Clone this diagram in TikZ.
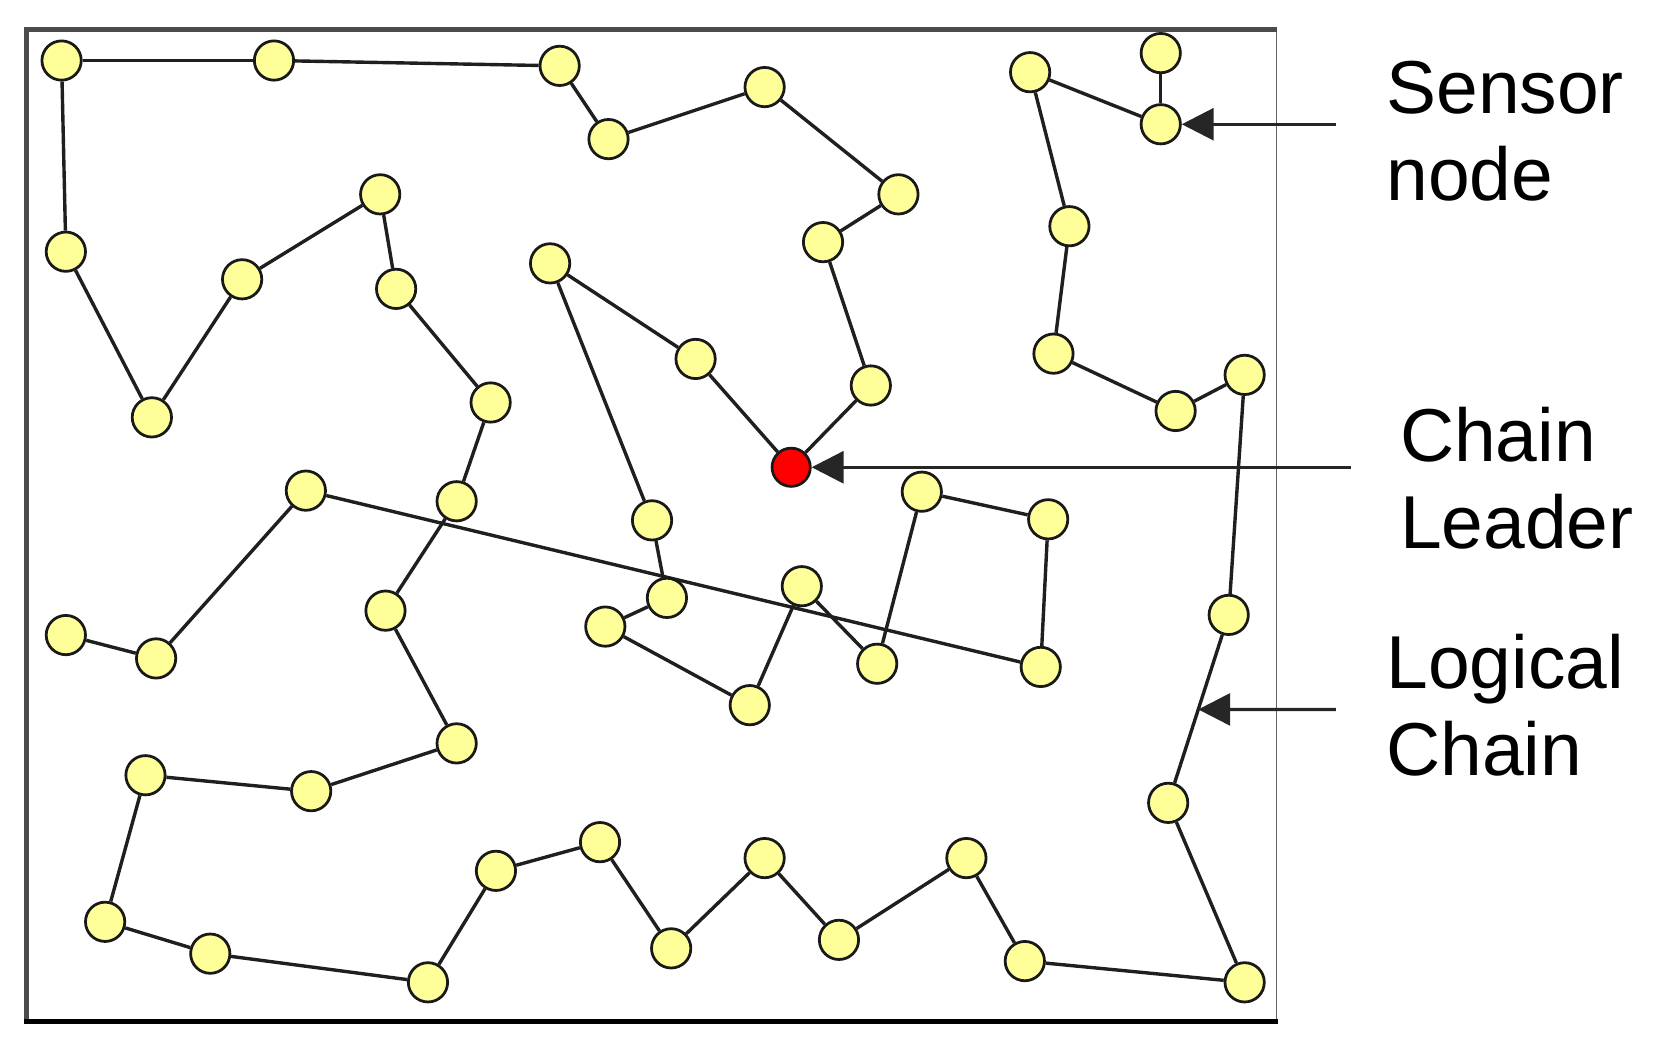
\documentclass[tikz,border=0pt]{standalone}
\usepackage{fontspec}
\setmainfont{Liberation Sans}
\usetikzlibrary{arrows.meta,calc,backgrounds}
\definecolor{nodeyellow}{RGB}{255,255,153}
\definecolor{framegray}{RGB}{75,75,75}
\begin{document}
\begin{tikzpicture}[x=0.5pt,y=-0.5pt,
  sensor/.style={circle,draw=black!90,line width=1.3pt,fill=nodeyellow,minimum size=18.5pt,inner sep=0pt},
  leader/.style={sensor,fill=red,minimum size=18pt},
  link/.style={line width=1.6pt,draw=black!88},
  pointer/.style={line width=1.5pt,draw=black!85,-{Triangle[length=15pt,width=15pt]}},
  lbl/.style={font=\fontsize{35.3}{41}\selectfont,align=left,anchor=north west,inner sep=0pt}]
\useasboundingbox (0,0) rectangle (1565,990);

% sensor nodes along the chain
\node[sensor] (n1) at (1093,50) {};
\node[sensor] (n2) at (1093,117) {};
\node[sensor] (n3) at (970,68) {};
\node[sensor] (n4) at (1007,213) {};
\node[sensor] (n5) at (992,333) {};
\node[sensor] (n6) at (1107,387) {};
\node[sensor] (n7) at (1172,353) {};
\node[sensor] (n8) at (1157,579) {};
\node[sensor] (n9) at (1100,756) {};
\node[sensor] (n10) at (1172,925) {};
\node[sensor] (n11) at (965,905) {};
\node[sensor] (n12) at (910,808) {};
\node[sensor] (n13) at (790,885) {};
\node[sensor] (n14) at (720,808) {};
\node[sensor] (n15) at (632,893) {};
\node[sensor] (n16) at (565,793) {};
\node[sensor] (n17) at (467,820) {};
\node[sensor] (n18) at (403,925) {};
\node[sensor] (n19) at (198,898) {};
\node[sensor] (n20) at (99,868) {};
\node[sensor] (n21) at (137,730) {};
\node[sensor] (n22) at (293,745) {};
\node[sensor] (n23) at (430,700) {};
\node[sensor] (n24) at (363,575) {};
\node[sensor] (n25) at (430,472) {};
\node[sensor] (n26) at (462,379) {};
\node[sensor] (n27) at (373,272) {};
\node[sensor] (n28) at (358,183) {};
\node[sensor] (n29) at (228,263) {};
\node[sensor] (n30) at (143,393) {};
\node[sensor] (n31) at (62,237) {};
\node[sensor] (n32) at (58,57) {};
\node[sensor] (n33) at (258,57) {};
\node[sensor] (n34) at (527,62) {};
\node[sensor] (n35) at (573,131) {};
\node[sensor] (n36) at (720,82) {};
\node[sensor] (n37) at (846,183) {};
\node[sensor] (n38) at (775,228) {};
\node[sensor] (n39) at (820,363) {};
\node[leader] (n40) at (745,440) {};
\node[sensor] (n41) at (655,338) {};
\node[sensor] (n42) at (518,248) {};
\node[sensor] (n43) at (614,490) {};
\node[sensor] (n44) at (628,563) {};
\node[sensor] (n45) at (570,590) {};
\node[sensor] (n46) at (706,664) {};
\node[sensor] (n47) at (755,552) {};
\node[sensor] (n48) at (826,625) {};
\node[sensor] (n49) at (868,463) {};
\node[sensor] (n50) at (987,489) {};
\node[sensor] (n51) at (980,628) {};
\node[sensor] (n52) at (288,462) {};
\node[sensor] (n53) at (147,620) {};
\node[sensor] (n54) at (62,598) {};

\begin{scope}[on background layer]
  % frame
  \draw[line width=0.9pt,draw=black!60] (1202,28) -- (1202,962);
  \draw[line width=2.2pt,framegray] (25,962) -- (25,28) -- (1202,28);
  \draw[line width=2.7pt,black] (23,962) -- (1203,962);
  % logical chain
  \foreach \i [evaluate=\i as \j using int(\i+1)] in {1,...,53}
    \draw[link] (n\i) -- (n\j);
\end{scope}

% labels
\node[lbl] (tsensor) at (1305,57) {Sensor\\node};
\node[lbl] (tleader) at (1318,383) {Chain\\Leader};
\node[lbl] (tchain) at (1305,597) {Logical\\Chain};

% pointers
\coordinate (psensor) at (1258,117);
\coordinate (pleader) at (1272,440);
\coordinate (pchain) at (1258,668);
\coordinate (lc) at ($(n8)!0.503!(n9)$);
\draw[pointer] (psensor) -- (n2);
\draw[pointer] (pleader) -- (n40);
\draw[pointer] (pchain) -- (lc);
\end{tikzpicture}
\end{document}
